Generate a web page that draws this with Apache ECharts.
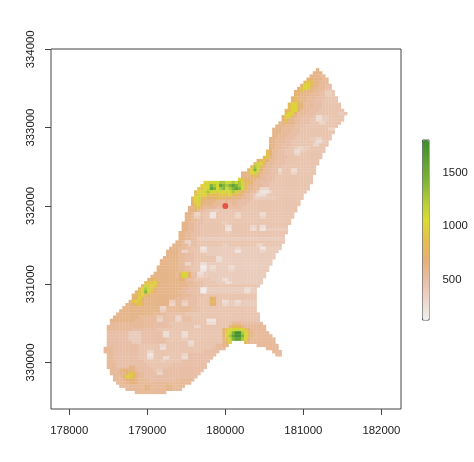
<!DOCTYPE html>
<html>
<head>
<meta charset="utf-8">
<title>raster</title>
<script src="https://cdn.jsdelivr.net/npm/echarts@6/dist/echarts.min.js"></script>
<style>
  html, body { margin: 0; padding: 0; background: #fff; }
  #main { width: 474px; height: 462px; }
</style>
</head>
<body>
<div id="main"></div>
<script>
// tick labels
const xTicks = [178000, 179000, 180000, 181000, 182000];
const yTicks = [330000, 331000, 332000, 333000, 334000];
const barTicks = [500, 1000, 1500];

// the grid: 40 m cells, first row at y 333740, first column at x 178460
const cellSize = 40;
const firstX = 178460;
const firstY = 333740;

// red point
const pointX = [180000];
const pointY = [332000];

// each letter of rowLevels stands for the value at the same place here
const levelCodes = "abcdefghijklmnopqr";
const levelValues = [160, 210, 270, 330, 390, 450, 500, 550, 620, 710, 810, 900, 1000, 1120, 1270, 1430, 1600, 1760];

// first and last column of each row
const rowFrom = [68,67,66,65,64,63,62,61,61,60,60,59,59,58,58,57,57,56,55,54,54,54,53,53,53,53,52,52,51,49,48,47,46,44,44,43,32,31,30,29,29,28,28,28,27,27,26,26,26,25,25,25,24,24,24,23,22,21,20,20,19,18,18,17,17,16,15,14,13,12,11,10,9,9,8,7,6,5,4,3,2,2,1,1,1,1,1,1,1,0,0,1,1,1,1,1,2,2,3,3,4,5,7,10];
const rowTo = [68,69,70,71,71,72,72,73,73,74,74,75,75,76,77,76,76,75,74,73,73,72,72,71,71,70,70,69,69,68,68,67,67,67,66,66,66,65,65,64,63,63,62,62,61,61,60,60,59,59,58,58,58,57,57,57,56,56,55,54,54,53,53,52,52,51,51,50,50,49,48,48,48,48,48,48,48,48,49,49,49,50,51,51,52,53,54,40,39,38,36,35,34,33,32,32,31,30,29,28,27,25,24,19];

// runs per row, level letter + count, * runs to the end of the row
const rowLevels = [
  "i*", "i*", "i3 h*", "j2 i3 h*", "k1 l2 i2 h*",
  "j1 m2 l1 i2 h2 g*", "j1 l1 m2 i2 h3 g*", "j2 k1 i3 h2 g2 e2 f*", "j2 i3 h3 g2 e2 f*", "j1 k1 i3 h3 g3 f*",
  "j1 k2 i2 h2 g3 f*", "k1 m2 j2 h3 g3 f*", "l1 m2 j2 h3 g3 f*", "k2 m2 j1 h3 g3 f*", "l1 m2 j1 h3 g3 f7 e2 f*",
  "j1 m2 i2 h2 g3 f1 c2 e2 f*", "j1 l1 i2 h2 g3 f2 c2 e2 f*", "i2 k1 i2 h2 g3 f3 d2 f*", "i3 h3 g3 f*", "i3 h3 g3 f9 d2 f*",
  "i3 h3 g3 f*", "i2 h3 g3 f*", "i2 h3 g3 f5 e2 d2 f*", "i2 h3 g2 f7 e1 c2 e1 f*", "i2 h2 g3 f7 d2 f*",
  "j1 i1 h2 g2 f2 e1 d2 e2 f*", "k1 j1 h2 g2 f3 c2 e2 f*", "l1 j1 h2 g2 f3 d2 f*", "k1 l1 i1 h2 g3 f*", "j1 k1 l1 j1 h2 g3 f*",
  "k1 n1 m1 j1 h3 g3 f*", "k1 o1 n1 k1 i1 h2 g3 f*", "j1 m1 p1 n1 j1 h2 g3 c1 f3 c2 f*", "i2 k1 m1 n1 k1 i1 h2 g3 d1 f3 d2 f*", "i3 j1 k1 j1 h2 g3 f*",
  "m1 l1 j2 i2 h3 g3 f*", "m2 n3 o2 n2 o1 n1 o1 m1 k2 j1 h2 g3 f*", "m2 n1 p1 o1 n1 q1 p1 o1 p1 q1 p1 o1 m1 k1 i2 h3 g2 f*", "l2 m1 n1 q1 p1 n1 o1 p1 n1 o1 p1 q1 p1 n1 k1 i2 h2 d3 f*", "k1 m2 n1 o1 n1 m1 n2 m1 n2 o1 n1 l1 j1 i2 h2 e1 b3 d1 f*",
  "l1 n1 m2 k1 l1 k2 l3 m1 k2 j1 i1 h2 g1 e1 c3 e1 f*", "k1 m1 n1 k2 j3 k2 j3 i3 h3 g1 e7 f*", "j1 m1 n1 j2 i3 h3 i1 h3 g4 f*", "j1 l1 m1 j1 i3 h3 g3 h2 g3 f*", "i2 k1 l1 i1 h4 g8 f*",
  "i2 j1 h2 g1 f2 e2 f*", "i2 h1 d2 g1 f2 b2 f6 d2 f6 c2 f*", "i2 h1 e2 g1 f2 b2 f6 d2 f6 d2 f*", "i2 h2 g2 f*", "i2 h2 g3 f6 e2 f*",
  "i2 h2 g2 f8 c2 f6 d2 f1 c2 f*", "i2 h2 g2 f8 b2 f6 c2 f1 b2 e*", "i2 h2 g3 f8 e2 f*", "i2 h2 g3 f*", "i2 h2 g2 e*",
  "i2 h1 d2 g2 f*", "i3 h2 e1 g2 f8 e2 f9 d2 f*", "i3 h2 g2 f3 b2 e9 d2 e6 b2 e*", "i4 h1 d2 f4 c2 e9 b2 e6 d2 e*", "i4 h2 g3 f4 e*",
  "i5 h2 g3 f7 c2 e*", "i6 h2 g3 f7 c2 e*", "i6 h2 d2 g1 f2 c2 e*", "i7 h2 g2 f3 a2 e1 c2 e4 c2 e*", "i7 h2 g2 f3 b2 e1 d2 e4 d2 e*",
  "i7 h1 j1 m2 j1 g2 c2 e*", "i8 h1 j1 n1 m1 j1 g2 d2 e*", "j2 k1 i7 j2 h1 g2 f5 e4 c2 e*", "k1 l2 m1 j1 i8 h3 g3 f4 e3 c2 e*", "j1 n1 l1 m1 l1 j1 i9 h3 g2 f*",
  "k1 m1 o1 n1 l1 j1 i8 h2 g4 a2 e12 c2 e*", "j1 l1 m1 p1 m1 k1 j1 i7 h2 g5 a2 e12 c2 e*", "j1 k1 l1 m1 k1 j1 i10 h3 g4 f*", "j2 m1 j1 i10 h3 g4 f4 j2 f*", "i1 l1 m1 l1 j1 i8 e2 h2 e2 g3 f4 k2 f2 c2 e2 c2 e*",
  "i2 j1 k1 l1 j1 i8 d2 h2 d2 g3 f4 j2 f2 d2 e2 d2 e*", "i12 d2 h8 g3 f*", "i13 e2 h8 g3 f*", "i12 h4 g6 f*", "i8 h6 e2 g4 d2 g3 f*",
  "i8 h7 d2 g4 d2 g3 f5 b3 f*", "h14 g5 f12 c3 f5 h3 g*", "h15 g6 f7 d2 f9 i1 k3 i1 h*", "h8 g8 f21 j1 l1 m1 n3 m1 l1 j1 h*", "g7 e4 g7 c2 f4 c2 f11 j1 m1 n1 p1 r2 o1 m1 k1 i1 h*",
  "g7 e4 g7 c2 f4 c2 f11 j1 m1 o1 q1 r2 p1 n1 k1 i1 h*", "g7 e4 g8 f5 e2 f11 i1 l1 n1 p1 q2 o1 m1 j1 h*", "g8 e3 g8 f7 c2 f9 i1 k1 m1", "g10 f7 d2 f7 d2 f7 h2 i*", "h3 g8 f7 c2 f15 g2 h*",
  "h3 g8 f3 d2 f16 g*", "h2 g8 f3 b2 f9 d2 g*", "h2 g8 f3 c2 f3 c2 f4 c2 g*", "h2 g10 f5 e2 f5 g*", "h3 g10 f8 g*",
  "h3 g4 i2 g5 f6 g*", "h3 i1 j2 i2 h1 g5 f1 e2 g*", "h3 i2 j1 l2 i1 h2 g4 d2 g*", "h3 j1 m2 k1 i1 h2 g*", "h3 i1 j3 i1 h4 g8 h*",
  "h3 i2 j1 i1 h*", "h8 i2 h5 i2 h*", "h6 i2 h5 i2 h*", "h*"
];

// the arm in the south east, split from the body by the gap in rows 87 to 91
const armRows = [87, 88, 89, 90, 91];
const armFrom = [45, 49, 52, 54, 55];
const armTo = [54, 55, 55, 56, 56];
const armLevels = ["k1 i1 h*", "h*", "h*", "h*", "h*"];

function addRow(cells, r, from, to, runs) {
  let c = from;
  runs.split(" ").forEach((run) => {
    let val = levelValues[levelCodes.indexOf(run[0])];
    let n = run[1] === "*" ? to - c + 1 : parseInt(run.slice(1));
    for (let i = 0; i < n && c <= to; i++) {
      cells.push([firstX + c * cellSize, firstY - r * cellSize, val]);
      c++;
    }
  });
}

let cells = [];
rowLevels.forEach((runs, r) => addRow(cells, r, rowFrom[r], rowTo[r], runs));
armRows.forEach((r, i) => addRow(cells, r, armFrom[i], armTo[i], armLevels[i]));

let chart = echarts.init(document.getElementById("main"));
const font = { fontFamily: "Liberation Sans", fontSize: 11.4, color: "#222" };
const tickLine = { color: "#444", width: 1 };

chart.setOption({
  animation: false,
  backgroundColor: "#fff",
  grid: [
    { left: 51, top: 49, width: 350, height: 360, show: true, borderColor: "#444", borderWidth: 1, backgroundColor: "transparent" },
    { left: 422, top: 139.5, width: 6.5, height: 180, show: false }
  ],
  xAxis: [
    {
      type: "value", gridIndex: 0, min: 177766, max: 182251, splitLine: { show: false },
      axisLine: { show: false },
      axisTick: { show: true, length: 6, lineStyle: tickLine, customValues: xTicks },
      axisLabel: Object.assign({ margin: 16, customValues: xTicks, formatter: (v) => String(v) }, font)
    },
    { type: "value", gridIndex: 1, min: 0, max: 1, show: false }
  ],
  yAxis: [
    {
      type: "value", gridIndex: 0, min: 329406, max: 334004, splitLine: { show: false },
      axisLine: { show: false },
      axisTick: { show: true, length: 6, lineStyle: tickLine, customValues: yTicks },
      axisLabel: Object.assign({ margin: 15, rotate: 90, customValues: yTicks, formatter: (v) => String(v) }, font)
    },
    {
      type: "value", gridIndex: 1, position: "right", min: 129, max: 1808, splitLine: { show: false },
      axisLine: { show: false },
      axisTick: { show: true, length: 7, lineStyle: tickLine, customValues: barTicks },
      axisLabel: Object.assign({ margin: 14, customValues: barTicks, formatter: (v) => String(v) }, font)
    }
  ],
  visualMap: {
    type: "continuous",
    seriesIndex: 0,
    dimension: 2,
    min: 129,
    max: 1808,
    left: 422,
    top: 139.5,
    itemWidth: 6.5,
    itemHeight: 180,
    padding: 0,
    text: null,
    showLabel: false,
    calculable: false,
    borderColor: "#555",
    borderWidth: 1,
    inRange: {
      color: ["#f1efef", "#ecd6ca", "#e8bea6", "#e4b078", "#e3bf4e", "#dcdc30", "#b0cb3a", "#7db337", "#5ca032", "#3c8c2c"]
    }
  },
  series: [
    {
      type: "custom",
      xAxisIndex: 0,
      yAxisIndex: 0,
      data: cells,
      encode: { x: 0, y: 1 },
      silent: true,
      renderItem: (params, api) => {
        let p = api.coord([api.value(0), api.value(1)]);
        let s = api.size([cellSize, cellSize]);
        return {
          type: "rect",
          shape: { x: p[0] - s[0] / 2, y: p[1] - s[1] / 2, width: s[0] + 0.3, height: s[1] + 0.3 },
          style: { fill: api.visual("color") }
        };
      }
    },
    {
      type: "scatter",
      xAxisIndex: 0,
      yAxisIndex: 0,
      symbolSize: 6,
      silent: true,
      itemStyle: { color: "#e2392a" },
      data: pointX.map((x, i) => [x, pointY[i]])
    }
  ]
});
</script>
</body>
</html>
